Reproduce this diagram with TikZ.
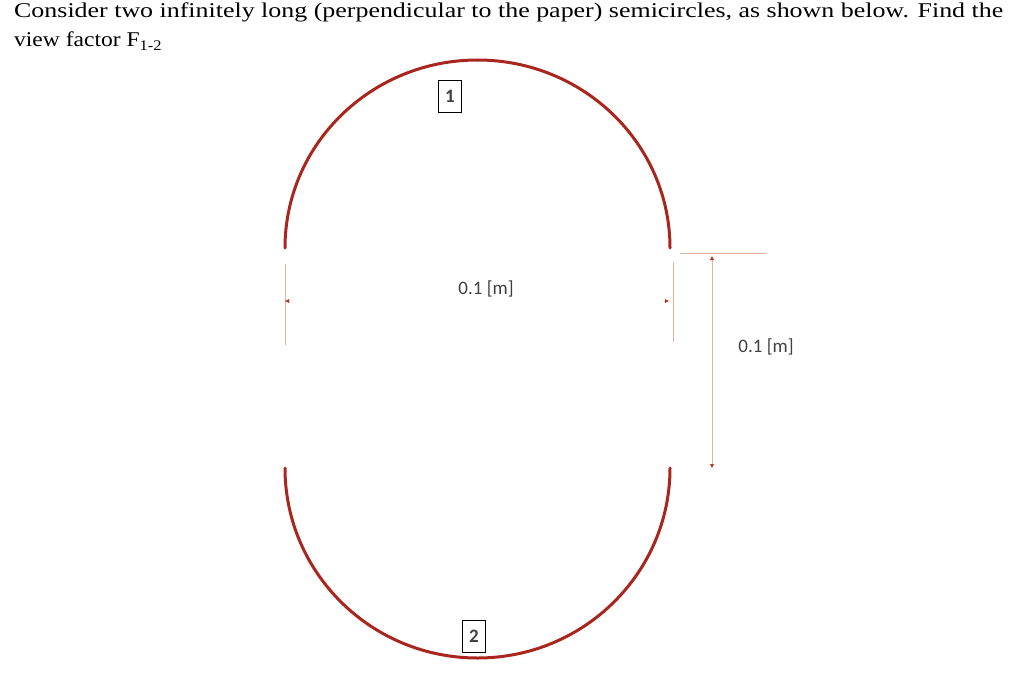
\documentclass[tikz,border=0pt]{standalone}
\usepackage{fontspec}
\setmainfont{Liberation Serif}
\newfontfamily\labfont{Carlito}
\usetikzlibrary{arrows.meta}
\definecolor{arcred}{HTML}{A8261E}
\definecolor{dimline}{HTML}{DDB49A}
\definecolor{tipred}{HTML}{B5331F}
\definecolor{labgray}{HTML}{404040}
\tikzset{
  surf/.style={draw=arcred, line width=3pt, line cap=round},
  dimln/.style={draw=dimline, line width=0.9pt},
  dimarrow/.style={draw=dimline, line width=0.9pt, -{Triangle[length=4pt,width=3.5pt,color=tipred]}},
  dimboth/.style={draw=dimline, line width=0.9pt, {Triangle[length=4pt,width=3.5pt,color=tipred]}-{Triangle[length=4pt,width=3.5pt,color=tipred]}},
  dimlab/.style={font=\labfont\fontsize{19}{21}\selectfont, text=labgray, inner sep=0pt},
  numbox/.style={draw=black, line width=0.9pt, font=\labfont\bfseries\fontsize{19}{20}\selectfont, text=labgray, minimum width=23pt, minimum height=32pt, inner sep=0pt},
  titletext/.style={anchor=base west, inner sep=0pt, font=\fontsize{21}{24}\selectfont}
}
\begin{document}
\begin{tikzpicture}[x=1pt,y=-1pt]
\useasboundingbox (0,0) rectangle (1024,685);
% title
\node[titletext] (t1) at (14,18) {\resizebox{989pt}{\height}{Consider two infinitely long (perpendicular to the paper) semicircles, as shown below. Find the}};
\node[titletext] (t2) at (14,47) {\scalebox{1.12}[1]{view factor F\textsubscript{1-2}}};
% surfaces
\draw[surf] (285,248) arc[start angle=180, end angle=360, x radius=192.5, y radius=188];
\draw[surf] (285,468) arc[start angle=180, end angle=0, x radius=192.5, y radius=190];
% labels of surfaces
\node[numbox] (n1) at (450,96) {1};
\node[numbox] (n2) at (474,636) {2};
% horizontal dimension
\coordinate (la) at (285,264);
\coordinate (lb) at (285,345);
\coordinate (ra) at (673,262);
\coordinate (rb) at (673,342);
\draw[dimln] (la) -- (lb);
\draw[dimln] (ra) -- (rb);
\coordinate (lt0) at (285,301);
\coordinate (lt1) at (290,301);
\coordinate (rt0) at (664,301);
\coordinate (rt1) at (669,301);
\draw[dimarrow] (lt1) -- (lt0);
\draw[dimarrow] (rt0) -- (rt1);
\node[dimlab] (h) at (486,289) {0.1 [m]};
% vertical dimension
\coordinate (ea) at (680,253);
\coordinate (eb) at (766,253);
\draw[dimln] (ea) -- (eb);
\coordinate (va) at (712,256);
\coordinate (vb) at (712,468);
\draw[dimboth] (va) -- (vb);
\node[dimlab] (v) at (766,347) {0.1 [m]};
\end{tikzpicture}
\end{document}
